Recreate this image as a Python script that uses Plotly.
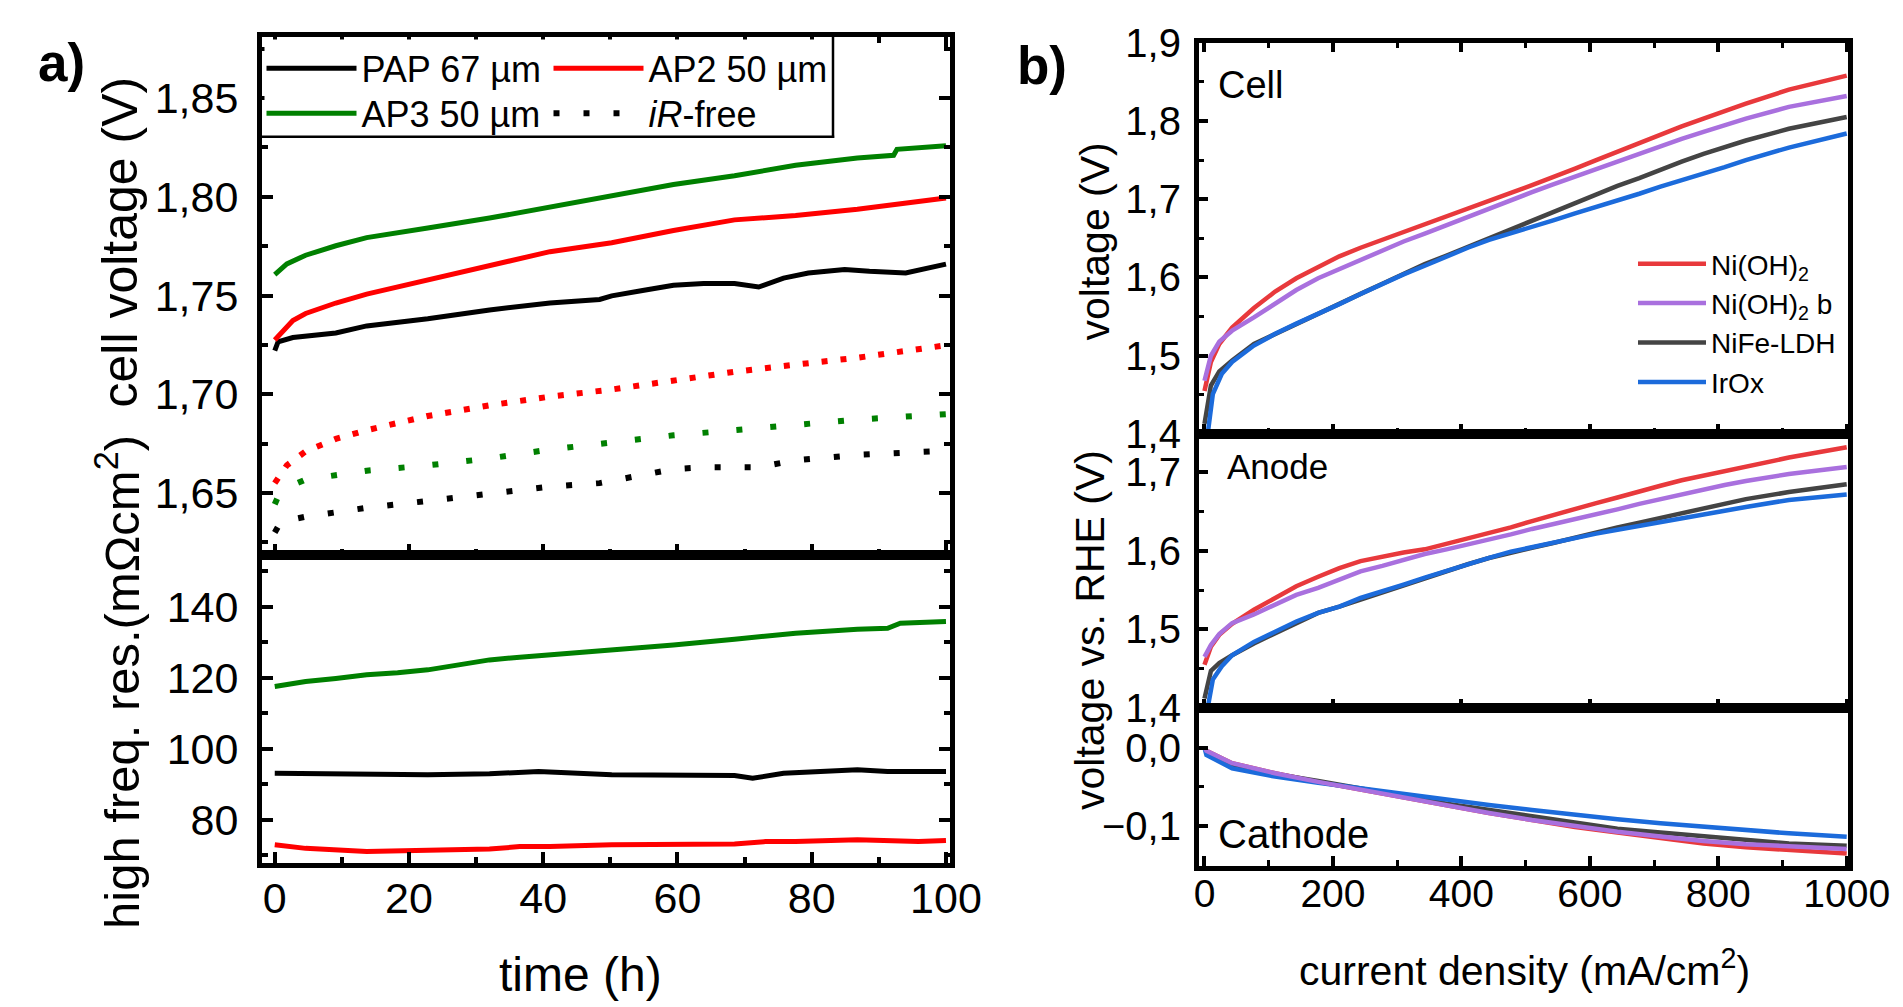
import plotly.graph_objects as go

W, H = 1903, 1007

# ---------------- Panel a data (time in h) ----------------
# cell voltage (V)
t_pap = [0, 0.5, 2.7, 9.1, 13.7, 22.8, 32, 41, 48.4, 50.2, 54.8, 59.4, 63.9, 68.5, 72.1, 75.8, 79.5, 84.9, 88.6, 94, 100]
v_pap = [1.7221, 1.7266, 1.7287, 1.731, 1.7346, 1.7382, 1.7427, 1.7462, 1.748, 1.7498, 1.7525, 1.7552,
         1.7561, 1.7561, 1.7543, 1.7588, 1.7614, 1.7632, 1.7623, 1.7614, 1.7659]
t_ap2 = [0, 0.9, 2.7, 4.6, 9.1, 13.7, 22.8, 32, 41, 50.2, 59.4, 68.5, 77.6, 86.8, 100]
v_ap2 = [1.7275, 1.731, 1.7373, 1.7409, 1.7462, 1.7507, 1.7579, 1.765, 1.7722, 1.7767, 1.7829, 1.7883,
         1.7905, 1.7937, 1.7994]
t_ap3 = [0, 1.8, 4.6, 9.1, 13.7, 18.3, 22.8, 32, 41, 50.2, 59.4, 68.5, 77.6, 86.8, 92.2, 92.7, 100]
v_ap3 = [1.7606, 1.766, 1.7704, 1.7752, 1.7793, 1.782, 1.7842, 1.7892, 1.7949, 1.8008, 1.8062, 1.8106,
         1.816, 1.8196, 1.821, 1.824, 1.8258]
# iR-free voltage (V)
t_pap_ir = [0, 0.9, 4.6, 13.7, 22.8, 32, 41, 48.4, 54.8, 59.4, 63.9, 72.1, 77.6, 86.8, 97.7]
v_pap_ir = [1.63, 1.6354, 1.638, 1.6425, 1.646, 1.6496, 1.6532, 1.655, 1.6594, 1.6621, 1.663, 1.663,
            1.6666, 1.6693, 1.671]
t_ap2_ir = [0, 1.8, 4.6, 9.1, 13.7, 22.8, 32, 41, 50.2, 59.4, 68.5, 77.6, 86.8, 100]
v_ap2_ir = [1.655, 1.664, 1.6711, 1.6774, 1.6818, 1.689, 1.6944, 1.6988, 1.7024, 1.7069, 1.7114, 1.715,
            1.7185, 1.7248]
t_ap3_ir = [0, 0.9, 4.6, 13.7, 22.8, 32, 41, 50.2, 59.4, 68.5, 77.6, 86.8, 100]
v_ap3_ir = [1.6443, 1.6514, 1.6568, 1.6613, 1.664, 1.6675, 1.672, 1.6756, 1.6792, 1.6818, 1.6845, 1.6872, 1.6899]
# high frequency resistance (mOhm cm2)
t_pap_r = [0, 13.7, 22.8, 32, 39.3, 50.2, 59.4, 68.5, 71.2, 75.8, 86.8, 91.3, 100]
r_pap = [93.1, 92.7, 92.7, 93.0, 93.6, 92.7, 92.7, 92.5, 91.7, 93.1, 94.1, 93.6, 93.6]
t_ap2_r = [0, 4.6, 13.7, 22.8, 32, 36.5, 41, 50.2, 59.4, 68.5, 73.1, 77.6, 86.8, 95.9, 100]
r_ap2 = [73.0, 72.0, 71.1, 71.6, 71.8, 72.5, 72.5, 73.0, 73.2, 73.2, 73.9, 73.9, 74.4, 73.9, 74.2]
t_ap3_r = [0, 4.6, 9.1, 13.7, 18.3, 22.8, 27.4, 32, 36.5, 41, 50.2, 59.4, 68.5, 77.6, 86.8, 91.3, 93.2, 100]
r_ap3 = [117.5, 118.9, 119.8, 120.8, 121.4, 122.2, 123.6, 125.0, 125.75, 126.4, 127.8, 129.2, 130.8,
         132.5, 133.6, 133.9, 135.3, 135.8]

names_a = ["PAP 67 µm", "AP2 50 µm", "AP3 50 µm", "<i>iR</i>-free"]

# ---------------- Panel b data (current density mA/cm2) ----------------
j_grid = [0, 10, 23, 43, 77, 110, 143, 177, 210, 243, 277, 310, 343, 377, 410, 443, 477, 510, 543, 577,
          610, 643, 677, 710, 743, 777, 810, 843, 910, 1000]
cell_nioh = [1.455, 1.492, 1.515, 1.536, 1.561, 1.582, 1.599, 1.614, 1.627, 1.638, 1.648, 1.658, 1.668, 1.678,
             1.688, 1.698, 1.708, 1.718, 1.728, 1.739, 1.750, 1.761, 1.772, 1.783, 1.793, 1.803, 1.813,
             1.822, 1.840, 1.858]
cell_niohb = [1.468, 1.500, 1.518, 1.532, 1.549, 1.566, 1.584, 1.599, 1.611, 1.623, 1.634, 1.646, 1.656, 1.667,
              1.677, 1.688, 1.698, 1.709, 1.719, 1.729, 1.739, 1.748, 1.758, 1.767, 1.777, 1.786, 1.795,
              1.803, 1.818, 1.832]
cell_nife = [1.413, 1.462, 1.480, 1.494, 1.515, 1.528, 1.541, 1.553, 1.566, 1.579, 1.592, 1.605, 1.617, 1.628,
             1.639, 1.650, 1.661, 1.672, 1.684, 1.695, 1.706, 1.717, 1.727, 1.738, 1.748, 1.758, 1.767,
             1.775, 1.790, 1.805]
j_irox = [5, 13, 27, 43, 77, 110, 143, 177, 210, 243, 277, 310, 343, 377, 410, 443, 477, 510, 543, 577,
          610, 643, 677, 710, 743, 777, 810, 843, 910, 1000]
cell_irox = [1.400, 1.451, 1.477, 1.492, 1.513, 1.528, 1.541, 1.553, 1.566, 1.579, 1.592, 1.604, 1.615, 1.627,
             1.638, 1.648, 1.656, 1.665, 1.673, 1.682, 1.690, 1.699, 1.707, 1.716, 1.724, 1.733, 1.741,
             1.750, 1.766, 1.784]

anode_nioh = [1.455, 1.478, 1.493, 1.507, 1.525, 1.540, 1.555, 1.567, 1.578, 1.587, 1.593, 1.598, 1.602,
              1.609, 1.615, 1.623, 1.630, 1.638, 1.646, 1.653, 1.661, 1.668, 1.676, 1.683, 1.690, 1.696,
              1.702, 1.708, 1.719, 1.732]
anode_niohb = [1.465, 1.480, 1.494, 1.508, 1.519, 1.531, 1.544, 1.553, 1.563, 1.574, 1.581, 1.589, 1.596,
               1.602, 1.608, 1.615, 1.621, 1.628, 1.634, 1.640, 1.647, 1.653, 1.660, 1.666, 1.672, 1.679,
               1.684, 1.689, 1.698, 1.707]
anode_nife = [1.412, 1.447, 1.457, 1.467, 1.482, 1.495, 1.508, 1.521, 1.529, 1.538, 1.548, 1.557, 1.566,
              1.574, 1.583, 1.591, 1.598, 1.604, 1.610, 1.617, 1.623, 1.630, 1.636, 1.642, 1.649, 1.655,
              1.660, 1.666, 1.675, 1.685]
anode_irox = [1.400, 1.436, 1.453, 1.467, 1.484, 1.497, 1.510, 1.521, 1.529, 1.540, 1.548, 1.557, 1.566,
              1.574, 1.583, 1.591, 1.599, 1.605, 1.611, 1.616, 1.622, 1.627, 1.632, 1.637, 1.642, 1.647,
              1.652, 1.656, 1.665, 1.672]

j_cath = [0, 3, 43, 110, 177, 243, 310, 377, 443, 510, 577, 643, 710, 777, 843, 910, 1000]
cath_nioh = [0.0, -0.004, -0.020, -0.033, -0.044, -0.054, -0.065, -0.075, -0.084, -0.093, -0.102, -0.109,
             -0.116, -0.123, -0.128, -0.132, -0.136]
cath_niohb = [0.0, -0.004, -0.020, -0.033, -0.044, -0.054, -0.065, -0.075, -0.084, -0.093, -0.101, -0.108,
              -0.114, -0.120, -0.124, -0.127, -0.130]
cath_nife = [0.0, -0.005, -0.022, -0.034, -0.043, -0.052, -0.062, -0.072, -0.080, -0.089, -0.096, -0.104,
             -0.109, -0.114, -0.119, -0.123, -0.126]
cath_irox = [0.0, -0.0095, -0.0266, -0.0373, -0.045, -0.0523, -0.0587, -0.0664, -0.0737, -0.0801, -0.0865,
             -0.0921, -0.0972, -0.1015, -0.1057, -0.110, -0.1143]

names_b = ["Ni(OH)<sub>2</sub>", "Ni(OH)<sub>2</sub> b", "NiFe-LDH", "IrOx"]

# tick labels
xa_vals = [0, 20, 40, 60, 80, 100]
xa_text = ["0", "20", "40", "60", "80", "100"]
ya_vals = [1.65, 1.70, 1.75, 1.80, 1.85]
ya_text = ["1,65", "1,70", "1,75", "1,80", "1,85"]
yr_vals = [80, 100, 120, 140]
yr_text = ["80", "100", "120", "140"]
xb_vals = [0, 200, 400, 600, 800, 1000]
xb_text = ["0", "200", "400", "600", "800", "1000"]
yc_vals = [1.4, 1.5, 1.6, 1.7, 1.8, 1.9]
yc_text = ["1,4", "1,5", "1,6", "1,7", "1,8", "1,9"]
yan_vals = [1.4, 1.5, 1.6, 1.7]
yan_text = ["1,4", "1,5", "1,6", "1,7"]
yca_vals = [-0.1, 0.0]
yca_text = ["\u22120,1", "0,0"]

# ---------------- styling ----------------
FONT = "Liberation Sans, Arial, sans-serif"
C_A = {"black": "#000000", "red": "#FF0000", "green": "#008000"}
C_B = ["#E8393C", "#A970DE", "#444444", "#1C6BDB"]


def px_x(x):
    return x / W


def px_y(y):
    return 1 - y / H


XA = [px_x(262), px_x(950)]
XB = [px_x(1198.7), px_x(1848)]

fig = go.Figure()

# Panel a, upper
fig.add_trace(go.Scatter(x=t_pap, y=v_pap, mode="lines", name=names_a[0], xaxis="x", yaxis="y",
                         line=dict(color=C_A["black"], width=5), legend="legend"))
fig.add_trace(go.Scatter(x=t_ap2, y=v_ap2, mode="lines", name=names_a[1], xaxis="x", yaxis="y",
                         line=dict(color=C_A["red"], width=5), legend="legend2"))
fig.add_trace(go.Scatter(x=t_ap3, y=v_ap3, mode="lines", name=names_a[2], xaxis="x", yaxis="y",
                         line=dict(color=C_A["green"], width=5), legend="legend3"))
fig.add_trace(go.Scatter(x=t_pap_ir, y=v_pap_ir, mode="lines", name=names_a[3], xaxis="x", yaxis="y",
                         line=dict(color=C_A["black"], width=6, dash="6px,24px"), legend="legend4"))
fig.add_trace(go.Scatter(x=t_ap2_ir, y=v_ap2_ir, mode="lines", showlegend=False, xaxis="x", yaxis="y",
                         line=dict(color=C_A["red"], width=6, dash="6px,13px")))
fig.add_trace(go.Scatter(x=t_ap3_ir, y=v_ap3_ir, mode="lines", showlegend=False, xaxis="x", yaxis="y",
                         line=dict(color=C_A["green"], width=6, dash="6px,28px")))
# Panel a, lower
for tt, rr, c in [(t_pap_r, r_pap, "black"), (t_ap2_r, r_ap2, "red"), (t_ap3_r, r_ap3, "green")]:
    fig.add_trace(go.Scatter(x=tt, y=rr, mode="lines", showlegend=False, xaxis="x2", yaxis="y2",
                             line=dict(color=C_A[c], width=5)))

# Panel b
cell_sets = [(j_grid, cell_nioh), (j_grid, cell_niohb), (j_grid, cell_nife), (j_irox, cell_irox)]
for i, (jj, vv) in enumerate(cell_sets):
    fig.add_trace(go.Scatter(x=jj, y=vv, mode="lines", name=names_b[i], xaxis="x3", yaxis="y3",
                             line=dict(color=C_B[i], width=4.5), legend="legend5", legendrank=i + 1))
anode_sets = [(j_grid, anode_nioh), (j_grid, anode_niohb), (j_grid, anode_nife), (j_irox, anode_irox)]
for i, (jj, vv) in enumerate(anode_sets):
    fig.add_trace(go.Scatter(x=jj, y=vv, mode="lines", showlegend=False, xaxis="x4", yaxis="y4",
                             line=dict(color=C_B[i], width=4.5)))
cath_sets = [(0, cath_nioh), (2, cath_nife), (3, cath_irox), (1, cath_niohb)]
for i, vv in cath_sets:
    fig.add_trace(go.Scatter(x=j_cath, y=vv, mode="lines", showlegend=False, xaxis="x5", yaxis="y5",
                             line=dict(color=C_B[i], width=4.5)))


def axis(domain, rng, tickvals=None, ticktext=None, minor_vals=None, lw=5, tw=4, tl=11, size=41,
         labels=True, mirror=True, **kw):
    d = dict(domain=domain, range=rng, showline=True, linecolor="black", linewidth=lw, mirror=mirror,
             ticks="inside", tickcolor="black", tickwidth=tw, ticklen=tl, showgrid=False, zeroline=False,
             tickmode="array", tickvals=tickvals, ticktext=ticktext, showticklabels=labels,
             tickfont=dict(family=FONT, size=size, color="black"), fixedrange=True, automargin=False)
    if minor_vals is not None:
        d["minor"] = dict(tickmode="array", tickvals=minor_vals, ticks="inside", ticklen=6,
                          tickwidth=tw - 0.5, tickcolor="black", showgrid=False)
    d.update(kw)
    return d


fig.update_layout(
    template="none",
    width=W, height=H, autosize=False, margin=dict(l=0, r=0, t=0, b=0, pad=0),
    paper_bgcolor="white", plot_bgcolor="white",
    font=dict(family=FONT, color="black"), separators=",.",
    xaxis=axis(XA, [-1.9, 100.6], xa_vals, xa_text, [10, 30, 50, 70, 90], labels=False,
               mirror="ticks", anchor="y"),
    yaxis=axis([px_y(555), px_y(37)], [1.6186, 1.8809], ya_vals, ya_text,
               [1.625, 1.675, 1.725, 1.775, 1.825, 1.875], size=43, mirror="ticks", anchor="x",
               ticklabelstandoff=10),
    xaxis2=axis(XA, [-1.9, 100.6], xa_vals, xa_text, [10, 30, 50, 70, 90], size=43, anchor="y2",
                ticklabelstandoff=-7),
    yaxis2=axis([px_y(863.3), px_y(555)], [67.8, 154.5], yr_vals, yr_text, [70, 90, 110, 130, 150],
                size=43, mirror="ticks", anchor="x2", ticklabelstandoff=10),
    xaxis3=axis(XB, [-9, 1002], xb_vals, xb_text, [100, 300, 500, 700, 900], lw=4.5, tw=3.5, tl=10,
                labels=False, mirror="ticks", anchor="y3"),
    yaxis3=axis([px_y(434), px_y(42.7)], [1.4, 1.9], yc_vals, yc_text,
                [1.45, 1.55, 1.65, 1.75, 1.85], lw=4.5, tw=3.5, tl=10, size=40, anchor="x3",
                ticklabelstandoff=5),
    xaxis4=axis(XB, [-9, 1002], xb_vals, xb_text, [100, 300, 500, 700, 900], lw=4.5, tw=3.5, tl=10,
                labels=False, anchor="y4"),
    yaxis4=axis([px_y(708.3), px_y(434)], [1.3994, 1.749], yan_vals, yan_text, [1.45, 1.55, 1.65],
                lw=4.5, tw=3.5, tl=10, size=40, anchor="x4", ticklabelstandoff=5),
    xaxis5=axis(XB, [-9, 1002], xb_vals, xb_text, [100, 300, 500, 700, 900], lw=4.5, tw=3.5, tl=10,
                size=39, anchor="y5", ticklabelstandoff=-10),
    yaxis5=axis([px_y(865.5), px_y(708.3)], [-0.1513, 0.0504], yca_vals, yca_text, [-0.05],
                lw=4.5, tw=3.5, tl=10, size=40, anchor="x5", ticklabelstandoff=5),
    showlegend=True,
)

leg_common = dict(bgcolor="rgba(0,0,0,0)", borderwidth=0, orientation="h", xanchor="left",
                  yanchor="middle", font=dict(family=FONT, size=36, color="black"), itemwidth=90,
                  itemclick=False, itemdoubleclick=False)
fig.update_layout(
    legend=dict(x=px_x(261.5), y=px_y(68.3), **leg_common),
    legend2=dict(x=px_x(548.5), y=px_y(68.3), **leg_common),
    legend3=dict(x=px_x(261.5), y=px_y(113.3), **leg_common),
    legend4=dict(x=px_x(548.5), y=px_y(113.3), **leg_common),
    legend5=dict(x=px_x(1633), y=px_y(239), xanchor="left", yanchor="top", orientation="v",
                 bgcolor="rgba(0,0,0,0)", borderwidth=0, itemwidth=68, tracegroupgap=0,
                 font=dict(family=FONT, size=28, color="black"), itemclick=False, itemdoubleclick=False),
)

# legend frame for panel a (white box, thin right/bottom border; axis frame stays on top-left)
fig.add_shape(type="rect", xref="paper", yref="paper", x0=px_x(264.5), x1=px_x(833),
              y0=px_y(136.7), y1=px_y(39.5), fillcolor="white", line=dict(width=0), layer="above")
fig.add_shape(type="line", xref="paper", yref="paper", x0=px_x(833), x1=px_x(833),
              y0=px_y(137.9), y1=px_y(37), line=dict(color="black", width=2.5), layer="above")
fig.add_shape(type="line", xref="paper", yref="paper", x0=px_x(262), x1=px_x(834.2),
              y0=px_y(136.7), y1=px_y(136.7), line=dict(color="black", width=2.5), layer="above")


def ann(text, x, y, size, angle=0, xanchor="center", bold=False):
    fig.add_annotation(text=f"<b>{text}</b>" if bold else text, x=px_x(x), y=px_y(y), xref="paper",
                       yref="paper", showarrow=False, textangle=angle, xanchor=xanchor, yanchor="middle",
                       font=dict(family=FONT, size=size, color="black"))


ann("a)", 61, 62, 53, bold=True)
ann("b)", 1042, 66, 53, bold=True)
ann("cell voltage (V)", 119, 242.5, 50, angle=-90)
ann("high freq. res.(mΩcm<sup>2</sup>)", 118, 682, 49, angle=-90)
ann("time (h)", 580, 974, 48)
ann("voltage (V)", 1094, 241.5, 41, angle=-90)
ann("voltage vs. RHE (V)", 1090, 630, 41, angle=-90)
ann("current density (mA/cm<sup>2</sup>)", 1524, 968, 41)
ann("Cell", 1216, 85, 38, xanchor="left")
ann("Anode", 1225, 466, 35, xanchor="left")
ann("Cathode", 1216, 834, 40, xanchor="left")

fig.write_html("out.html", include_plotlyjs=True, full_html=True, config={"displayModeBar": False})
